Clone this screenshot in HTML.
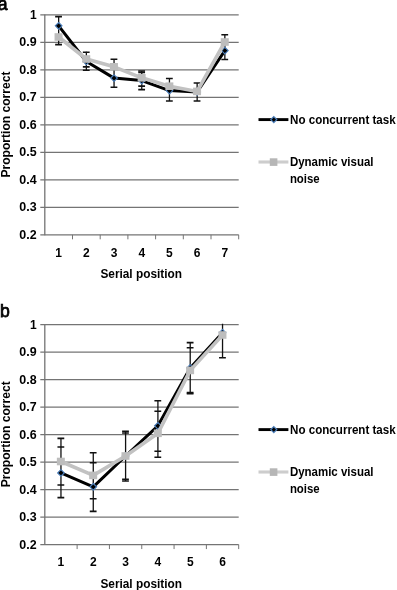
<!DOCTYPE html>
<html><head><meta charset="utf-8"><title>Figure</title>
<style>
html,body{margin:0;padding:0;background:#fff;}
body{width:397px;height:590px;overflow:hidden;}
svg{display:block;}
text{font-family:"Liberation Sans",sans-serif;font-weight:bold;font-size:12px;fill:#000;}
.pl{font-weight:normal;font-size:17.6px;stroke:#000;stroke-width:0.75px;}
</style></head><body>
<svg width="397" height="590" viewBox="0 0 397 590">
<rect width="397" height="590" fill="#fff"/>

<line x1="40.3" y1="14.90" x2="238.7" y2="14.90" stroke="#747474" stroke-width="1.15"/>
<text x="36.6" y="18.90" text-anchor="end">1</text>
<line x1="40.3" y1="42.39" x2="238.7" y2="42.39" stroke="#747474" stroke-width="1.15"/>
<text x="36.6" y="46.39" text-anchor="end" textLength="17.3" lengthAdjust="spacingAndGlyphs">0.9</text>
<line x1="40.3" y1="69.88" x2="238.7" y2="69.88" stroke="#747474" stroke-width="1.15"/>
<text x="36.6" y="73.88" text-anchor="end" textLength="17.3" lengthAdjust="spacingAndGlyphs">0.8</text>
<line x1="40.3" y1="97.37" x2="238.7" y2="97.37" stroke="#747474" stroke-width="1.15"/>
<text x="36.6" y="101.37" text-anchor="end" textLength="17.3" lengthAdjust="spacingAndGlyphs">0.7</text>
<line x1="40.3" y1="124.86" x2="238.7" y2="124.86" stroke="#747474" stroke-width="1.15"/>
<text x="36.6" y="128.86" text-anchor="end" textLength="17.3" lengthAdjust="spacingAndGlyphs">0.6</text>
<line x1="40.3" y1="152.35" x2="238.7" y2="152.35" stroke="#747474" stroke-width="1.15"/>
<text x="36.6" y="156.35" text-anchor="end" textLength="17.3" lengthAdjust="spacingAndGlyphs">0.5</text>
<line x1="40.3" y1="179.84" x2="238.7" y2="179.84" stroke="#747474" stroke-width="1.15"/>
<text x="36.6" y="183.84" text-anchor="end" textLength="17.3" lengthAdjust="spacingAndGlyphs">0.4</text>
<line x1="40.3" y1="207.33" x2="238.7" y2="207.33" stroke="#747474" stroke-width="1.15"/>
<text x="36.6" y="211.33" text-anchor="end" textLength="17.3" lengthAdjust="spacingAndGlyphs">0.3</text>
<line x1="40.3" y1="234.82" x2="238.7" y2="234.82" stroke="#747474" stroke-width="1.15"/>
<text x="36.6" y="238.82" text-anchor="end" textLength="17.3" lengthAdjust="spacingAndGlyphs">0.2</text>
<line x1="44.8" y1="14.40" x2="44.8" y2="235.32" stroke="#747474" stroke-width="1.3"/>
<line x1="72.50" y1="234.82" x2="72.50" y2="239.32" stroke="#747474" stroke-width="1"/>
<line x1="100.20" y1="234.82" x2="100.20" y2="239.32" stroke="#747474" stroke-width="1"/>
<line x1="127.90" y1="234.82" x2="127.90" y2="239.32" stroke="#747474" stroke-width="1"/>
<line x1="155.60" y1="234.82" x2="155.60" y2="239.32" stroke="#747474" stroke-width="1"/>
<line x1="183.30" y1="234.82" x2="183.30" y2="239.32" stroke="#747474" stroke-width="1"/>
<line x1="211.00" y1="234.82" x2="211.00" y2="239.32" stroke="#747474" stroke-width="1"/>
<line x1="238.70" y1="234.82" x2="238.70" y2="239.32" stroke="#747474" stroke-width="1"/>
<text x="58.65" y="256.72" text-anchor="middle">1</text>
<text x="86.35" y="256.72" text-anchor="middle">2</text>
<text x="114.05" y="256.72" text-anchor="middle">3</text>
<text x="141.75" y="256.72" text-anchor="middle">4</text>
<text x="169.45" y="256.72" text-anchor="middle">5</text>
<text x="197.15" y="256.72" text-anchor="middle">6</text>
<text x="224.85" y="256.72" text-anchor="middle">7</text>
<text x="141.2" y="278.22" text-anchor="middle" textLength="81.6" lengthAdjust="spacingAndGlyphs">Serial position</text>
<text transform="translate(9.5 124.56) rotate(-90)" text-anchor="middle" textLength="106" lengthAdjust="spacingAndGlyphs">Proportion correct</text>
<clipPath id="c1"><rect x="44.8" y="13.90" width="193.89999999999998" height="221.92"/></clipPath>
<g clip-path="url(#c1)">
<g stroke="#111" fill="none">
<line x1="58.65" y1="16.60" x2="58.65" y2="44.60" stroke-width="1.3"/>
<line x1="55.15" y1="16.60" x2="61.95" y2="16.60" stroke-width="1.6"/>
<line x1="55.15" y1="44.60" x2="61.95" y2="44.60" stroke-width="1.6"/>
<line x1="86.35" y1="51.80" x2="86.35" y2="70.30" stroke-width="1.3"/>
<line x1="82.85" y1="52.20" x2="89.65" y2="52.20" stroke-width="1.6"/>
<line x1="82.85" y1="66.90" x2="89.65" y2="66.90" stroke-width="1.6"/>
<line x1="82.85" y1="70.30" x2="89.65" y2="70.30" stroke-width="1.6"/>
<line x1="114.05" y1="59.20" x2="114.05" y2="87.30" stroke-width="1.3"/>
<line x1="110.55" y1="59.20" x2="117.35" y2="59.20" stroke-width="1.6"/>
<line x1="110.55" y1="87.30" x2="117.35" y2="87.30" stroke-width="1.6"/>
<line x1="141.75" y1="71.00" x2="141.75" y2="89.60" stroke-width="1.3"/>
<line x1="138.25" y1="71.00" x2="145.05" y2="71.00" stroke-width="1.6"/>
<line x1="138.25" y1="72.40" x2="145.05" y2="72.40" stroke-width="1.6"/>
<line x1="138.25" y1="86.10" x2="145.05" y2="86.10" stroke-width="1.6"/>
<line x1="138.25" y1="89.60" x2="145.05" y2="89.60" stroke-width="1.6"/>
<line x1="169.45" y1="78.50" x2="169.45" y2="101.00" stroke-width="1.3"/>
<line x1="165.95" y1="78.50" x2="172.75" y2="78.50" stroke-width="1.6"/>
<line x1="165.95" y1="101.00" x2="172.75" y2="101.00" stroke-width="1.6"/>
<line x1="197.15" y1="83.00" x2="197.15" y2="101.00" stroke-width="1.3"/>
<line x1="193.65" y1="83.00" x2="200.45" y2="83.00" stroke-width="1.6"/>
<line x1="193.65" y1="101.00" x2="200.45" y2="101.00" stroke-width="1.6"/>
<line x1="224.85" y1="34.80" x2="224.85" y2="59.50" stroke-width="1.3"/>
<line x1="221.35" y1="34.80" x2="228.15" y2="34.80" stroke-width="1.6"/>
<line x1="221.35" y1="59.50" x2="228.15" y2="59.50" stroke-width="1.6"/>
</g>
<polyline points="58.65,25.80 86.35,61.50 114.05,78.10 141.75,80.60 169.45,90.60 197.15,92.00 224.85,50.60" fill="none" stroke="#000" stroke-width="3.0" stroke-linejoin="round" stroke-linecap="round"/>
<path d="M58.65 22.50L61.95 25.80L58.65 29.10L55.35 25.80Z" fill="#000" stroke="#4a7ebb" stroke-width="1.15"/>
<path d="M86.35 58.20L89.65 61.50L86.35 64.80L83.05 61.50Z" fill="#000" stroke="#4a7ebb" stroke-width="1.15"/>
<path d="M114.05 74.80L117.35 78.10L114.05 81.40L110.75 78.10Z" fill="#000" stroke="#4a7ebb" stroke-width="1.15"/>
<path d="M141.75 77.30L145.05 80.60L141.75 83.90L138.45 80.60Z" fill="#000" stroke="#4a7ebb" stroke-width="1.15"/>
<path d="M169.45 87.30L172.75 90.60L169.45 93.90L166.15 90.60Z" fill="#000" stroke="#4a7ebb" stroke-width="1.15"/>
<path d="M197.15 88.70L200.45 92.00L197.15 95.30L193.85 92.00Z" fill="#000" stroke="#4a7ebb" stroke-width="1.15"/>
<path d="M224.85 47.30L228.15 50.60L224.85 53.90L221.55 50.60Z" fill="#000" stroke="#4a7ebb" stroke-width="1.15"/>
<polyline points="58.65,37.00 86.35,59.00 114.05,66.80 141.75,77.80 169.45,86.20 197.15,91.40 224.85,42.00" fill="none" stroke="#c2c2c2" stroke-width="3.6" stroke-linejoin="round" stroke-linecap="round"/>
<rect x="54.55" y="33.20" width="8.0" height="7.6" fill="#bdbdbd"/>
<rect x="82.25" y="55.20" width="8.0" height="7.6" fill="#bdbdbd"/>
<rect x="109.95" y="63.00" width="8.0" height="7.6" fill="#bdbdbd"/>
<rect x="137.65" y="74.00" width="8.0" height="7.6" fill="#bdbdbd"/>
<rect x="165.35" y="82.40" width="8.0" height="7.6" fill="#bdbdbd"/>
<rect x="193.05" y="87.60" width="8.0" height="7.6" fill="#bdbdbd"/>
<rect x="220.75" y="38.20" width="8.0" height="7.6" fill="#bdbdbd"/>
</g>
<line x1="258.5" y1="119.60" x2="288.4" y2="119.60" stroke="#000" stroke-width="2.9"/>
<path d="M273.80 116.60L276.80 119.60L273.80 122.60L270.80 119.60Z" fill="#000" stroke="#4a7ebb" stroke-width="1.2"/>
<text x="290.1" y="123.80" textLength="105.6" lengthAdjust="spacingAndGlyphs">No concurrent task</text>
<line x1="258.5" y1="162.00" x2="288.4" y2="162.00" stroke="#cdcdcd" stroke-width="3.1"/>
<rect x="269.80" y="158.30" width="7.6" height="7.6" fill="#b6b6b6"/>
<text x="289.9" y="165.60" textLength="83.6" lengthAdjust="spacingAndGlyphs">Dynamic visual</text>
<text x="289.9" y="182.60" textLength="29.8" lengthAdjust="spacingAndGlyphs">noise</text>
<text class="pl" x="-2.3" y="9.6">a</text>
<line x1="40.3" y1="324.65" x2="238.7" y2="324.65" stroke="#747474" stroke-width="1.15"/>
<text x="36.6" y="328.65" text-anchor="end">1</text>
<line x1="40.3" y1="352.14" x2="238.7" y2="352.14" stroke="#747474" stroke-width="1.15"/>
<text x="36.6" y="356.14" text-anchor="end" textLength="17.3" lengthAdjust="spacingAndGlyphs">0.9</text>
<line x1="40.3" y1="379.63" x2="238.7" y2="379.63" stroke="#747474" stroke-width="1.15"/>
<text x="36.6" y="383.63" text-anchor="end" textLength="17.3" lengthAdjust="spacingAndGlyphs">0.8</text>
<line x1="40.3" y1="407.12" x2="238.7" y2="407.12" stroke="#747474" stroke-width="1.15"/>
<text x="36.6" y="411.12" text-anchor="end" textLength="17.3" lengthAdjust="spacingAndGlyphs">0.7</text>
<line x1="40.3" y1="434.61" x2="238.7" y2="434.61" stroke="#747474" stroke-width="1.15"/>
<text x="36.6" y="438.61" text-anchor="end" textLength="17.3" lengthAdjust="spacingAndGlyphs">0.6</text>
<line x1="40.3" y1="462.10" x2="238.7" y2="462.10" stroke="#747474" stroke-width="1.15"/>
<text x="36.6" y="466.10" text-anchor="end" textLength="17.3" lengthAdjust="spacingAndGlyphs">0.5</text>
<line x1="40.3" y1="489.59" x2="238.7" y2="489.59" stroke="#747474" stroke-width="1.15"/>
<text x="36.6" y="493.59" text-anchor="end" textLength="17.3" lengthAdjust="spacingAndGlyphs">0.4</text>
<line x1="40.3" y1="517.08" x2="238.7" y2="517.08" stroke="#747474" stroke-width="1.15"/>
<text x="36.6" y="521.08" text-anchor="end" textLength="17.3" lengthAdjust="spacingAndGlyphs">0.3</text>
<line x1="40.3" y1="544.57" x2="238.7" y2="544.57" stroke="#747474" stroke-width="1.15"/>
<text x="36.6" y="548.57" text-anchor="end" textLength="17.3" lengthAdjust="spacingAndGlyphs">0.2</text>
<line x1="44.8" y1="324.15" x2="44.8" y2="545.07" stroke="#747474" stroke-width="1.3"/>
<line x1="77.12" y1="544.57" x2="77.12" y2="549.07" stroke="#747474" stroke-width="1"/>
<line x1="109.43" y1="544.57" x2="109.43" y2="549.07" stroke="#747474" stroke-width="1"/>
<line x1="141.75" y1="544.57" x2="141.75" y2="549.07" stroke="#747474" stroke-width="1"/>
<line x1="174.07" y1="544.57" x2="174.07" y2="549.07" stroke="#747474" stroke-width="1"/>
<line x1="206.38" y1="544.57" x2="206.38" y2="549.07" stroke="#747474" stroke-width="1"/>
<line x1="238.70" y1="544.57" x2="238.70" y2="549.07" stroke="#747474" stroke-width="1"/>
<text x="60.96" y="566.47" text-anchor="middle">1</text>
<text x="93.27" y="566.47" text-anchor="middle">2</text>
<text x="125.59" y="566.47" text-anchor="middle">3</text>
<text x="157.91" y="566.47" text-anchor="middle">4</text>
<text x="190.22" y="566.47" text-anchor="middle">5</text>
<text x="222.54" y="566.47" text-anchor="middle">6</text>
<text x="141.2" y="587.97" text-anchor="middle" textLength="81.6" lengthAdjust="spacingAndGlyphs">Serial position</text>
<text transform="translate(9.5 434.31) rotate(-90)" text-anchor="middle" textLength="106" lengthAdjust="spacingAndGlyphs">Proportion correct</text>
<clipPath id="c2"><rect x="44.8" y="323.65" width="193.89999999999998" height="221.92"/></clipPath>
<g clip-path="url(#c2)">
<g stroke="#111" fill="none">
<line x1="60.96" y1="438.40" x2="60.96" y2="497.60" stroke-width="1.3"/>
<line x1="57.46" y1="438.40" x2="64.26" y2="438.40" stroke-width="1.6"/>
<line x1="57.46" y1="447.00" x2="64.26" y2="447.00" stroke-width="1.6"/>
<line x1="57.46" y1="485.00" x2="64.26" y2="485.00" stroke-width="1.6"/>
<line x1="57.46" y1="497.60" x2="64.26" y2="497.60" stroke-width="1.6"/>
<line x1="93.27" y1="452.70" x2="93.27" y2="511.40" stroke-width="1.3"/>
<line x1="89.77" y1="452.70" x2="96.57" y2="452.70" stroke-width="1.6"/>
<line x1="89.77" y1="462.80" x2="96.57" y2="462.80" stroke-width="1.6"/>
<line x1="89.77" y1="498.80" x2="96.57" y2="498.80" stroke-width="1.6"/>
<line x1="89.77" y1="511.40" x2="96.57" y2="511.40" stroke-width="1.6"/>
<line x1="125.59" y1="431.30" x2="125.59" y2="481.00" stroke-width="1.3"/>
<line x1="122.09" y1="431.30" x2="128.89" y2="431.30" stroke-width="1.6"/>
<line x1="122.09" y1="433.00" x2="128.89" y2="433.00" stroke-width="1.6"/>
<line x1="122.09" y1="479.20" x2="128.89" y2="479.20" stroke-width="1.6"/>
<line x1="122.09" y1="481.00" x2="128.89" y2="481.00" stroke-width="1.6"/>
<line x1="157.91" y1="400.70" x2="157.91" y2="457.20" stroke-width="1.3"/>
<line x1="154.41" y1="400.70" x2="161.21" y2="400.70" stroke-width="1.6"/>
<line x1="154.41" y1="411.30" x2="161.21" y2="411.30" stroke-width="1.6"/>
<line x1="154.41" y1="451.20" x2="161.21" y2="451.20" stroke-width="1.6"/>
<line x1="154.41" y1="457.20" x2="161.21" y2="457.20" stroke-width="1.6"/>
<line x1="190.22" y1="342.60" x2="190.22" y2="393.10" stroke-width="1.3"/>
<line x1="186.72" y1="342.60" x2="193.52" y2="342.60" stroke-width="1.6"/>
<line x1="186.72" y1="347.80" x2="193.52" y2="347.80" stroke-width="1.6"/>
<line x1="186.72" y1="392.60" x2="193.52" y2="392.60" stroke-width="1.6"/>
<line x1="186.72" y1="393.60" x2="193.52" y2="393.60" stroke-width="1.6"/>
<line x1="222.54" y1="315.00" x2="222.54" y2="357.70" stroke-width="1.3"/>
<line x1="219.04" y1="357.70" x2="225.84" y2="357.70" stroke-width="1.6"/>
</g>
<polyline points="60.96,472.90 93.27,486.80 125.59,456.00 157.91,425.80 190.22,367.90 222.54,332.70" fill="none" stroke="#000" stroke-width="3.0" stroke-linejoin="round" stroke-linecap="round"/>
<path d="M60.96 469.60L64.26 472.90L60.96 476.20L57.66 472.90Z" fill="#000" stroke="#4a7ebb" stroke-width="1.15"/>
<path d="M93.27 483.50L96.57 486.80L93.27 490.10L89.97 486.80Z" fill="#000" stroke="#4a7ebb" stroke-width="1.15"/>
<path d="M125.59 452.70L128.89 456.00L125.59 459.30L122.29 456.00Z" fill="#000" stroke="#4a7ebb" stroke-width="1.15"/>
<path d="M157.91 422.50L161.21 425.80L157.91 429.10L154.61 425.80Z" fill="#000" stroke="#4a7ebb" stroke-width="1.15"/>
<path d="M190.22 364.60L193.52 367.90L190.22 371.20L186.92 367.90Z" fill="#000" stroke="#4a7ebb" stroke-width="1.15"/>
<path d="M222.54 329.40L225.84 332.70L222.54 336.00L219.24 332.70Z" fill="#000" stroke="#4a7ebb" stroke-width="1.15"/>
<polyline points="60.96,461.50 93.27,475.40 125.59,456.00 157.91,433.30 190.22,370.40 222.54,335.00" fill="none" stroke="#c2c2c2" stroke-width="3.6" stroke-linejoin="round" stroke-linecap="round"/>
<rect x="56.86" y="457.70" width="8.0" height="7.6" fill="#bdbdbd"/>
<rect x="89.17" y="471.60" width="8.0" height="7.6" fill="#bdbdbd"/>
<rect x="121.49" y="452.20" width="8.0" height="7.6" fill="#bdbdbd"/>
<rect x="153.81" y="429.50" width="8.0" height="7.6" fill="#bdbdbd"/>
<rect x="186.12" y="366.60" width="8.0" height="7.6" fill="#bdbdbd"/>
<rect x="218.44" y="331.20" width="8.0" height="7.6" fill="#bdbdbd"/>
</g>
<line x1="258.5" y1="429.60" x2="288.4" y2="429.60" stroke="#000" stroke-width="2.9"/>
<path d="M273.80 426.60L276.80 429.60L273.80 432.60L270.80 429.60Z" fill="#000" stroke="#4a7ebb" stroke-width="1.2"/>
<text x="290.1" y="433.80" textLength="105.6" lengthAdjust="spacingAndGlyphs">No concurrent task</text>
<line x1="258.5" y1="472.00" x2="288.4" y2="472.00" stroke="#cdcdcd" stroke-width="3.1"/>
<rect x="269.80" y="468.30" width="7.6" height="7.6" fill="#b6b6b6"/>
<text x="289.9" y="475.60" textLength="83.6" lengthAdjust="spacingAndGlyphs">Dynamic visual</text>
<text x="289.9" y="492.60" textLength="29.8" lengthAdjust="spacingAndGlyphs">noise</text>
<text class="pl" x="0.1" y="317.4">b</text>
</svg></body></html>
